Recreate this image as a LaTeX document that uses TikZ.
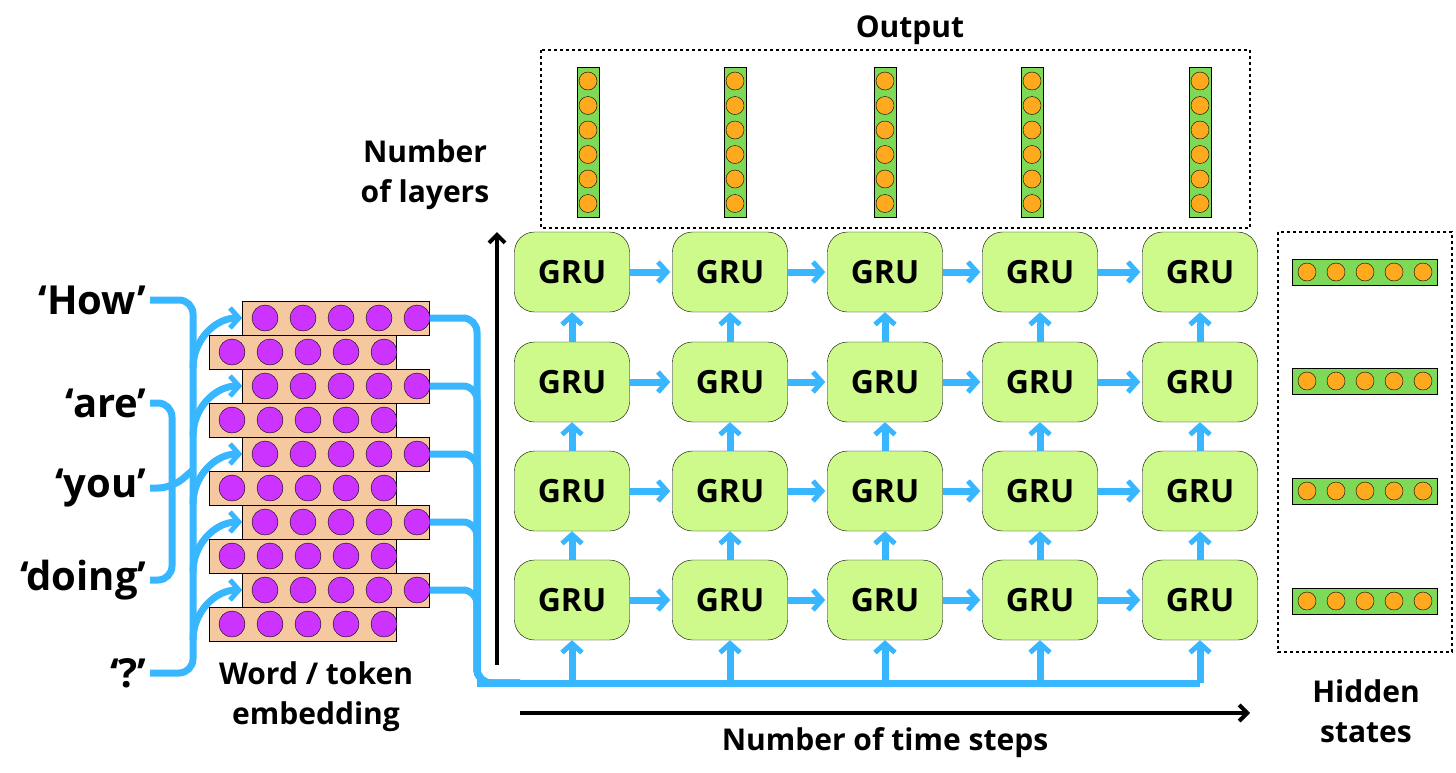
\documentclass[tikz,border=0pt]{standalone}
\usepackage{fontspec}
\setmainfont{Open Sans}
\usetikzlibrary{arrows.meta}
\definecolor{flow}{RGB}{56,182,255}
\definecolor{gruf}{RGB}{206,250,140}
\definecolor{strip}{RGB}{126,217,87}
\definecolor{dot}{RGB}{255,170,30}
\definecolor{emb}{RGB}{245,200,160}
\definecolor{pur}{RGB}{204,51,255}
\tikzset{
  gru/.style={draw,fill=gruf,rounded corners=20pt,minimum width=115pt,minimum height=80pt,font=\fontsize{32}{36}\selectfont\bfseries},
  wire/.style={flow,line width=7pt,rounded corners=14pt},
  tip/.style={-{Straight Barb[length=9pt,width=20pt,line width=5pt]}},
  word/.style={anchor=east,font=\fontsize{40}{44}\selectfont\bfseries},
  lbl/.style={align=center,font=\fontsize{30}{40}\selectfont\bfseries}
}
\begin{document}
\begin{tikzpicture}[x=1pt,y=-1pt]
\useasboundingbox (0,0) rectangle (1456,772);
% embeddings
\foreach \r [count=\i] in {318,386,454,522,590}{
  \node[draw,fill=emb,minimum width=187pt,minimum height=34pt,inner sep=0] (up\i) at (336,\r) {};
  \node[draw,fill=emb,minimum width=187pt,minimum height=34pt,inner sep=0] (lo\i) at (303,\r+34) {};
  \foreach \k in {0,...,4}{
    \fill[pur,draw=black] (265+\k*38,\r) circle (13pt);
    \fill[pur,draw=black] (232+\k*38,\r+34) circle (13pt);
  }
}
% words
\node[word] (how) at (150,300) {‘How’};
\node[word] (are) at (150,403) {‘are’};
\node[word] (you) at (150,488) {‘you’};
\node[word] (doing) at (150,580) {‘doing’};
\node[word] (qm) at (150,673) {‘?’};
\draw[wire] (how.east) -- (193,300) -- (193,673) -- (qm.east);
\draw[wire] (are.east) -- (172,403) -- (172,580) -- (doing.east);
\draw[wire] (you.east) -- (172,488) -- (193,470);
\foreach \i in {1,...,5}{
  \draw[wire,tip] (193,{300+68*\i}) to[out=90,in=180] (up\i.west);
  \draw[wire,rounded corners=14pt] (up\i.east) -- (477,{250+68*\i}) -- (477,683) -- (520,683);
}
\draw[wire] (477,683) -- (1200,683);
% axes
\coordinate (ya) at (497,665);
\coordinate (yb) at (497,232);
\coordinate (xa) at (520,713);
\coordinate (xb) at (1250,713);
\draw[line width=4pt,-{Straight Barb[length=8pt,width=16pt,line width=4pt]}] (ya) -- (yb);
\draw[line width=4pt,-{Straight Barb[length=8pt,width=16pt,line width=4pt]}] (xa) -- (xb);
% GRU grid
\foreach \x [count=\c] in {572,730,885,1040,1200}{
  \foreach \y [count=\r] in {600,491,382,272}{
    \node[gru] (g\c\r) at (\x,\y) {GRU};
  }
  \draw[wire,tip] (\x,683) -- (g\c1.south);
  \foreach \r [evaluate=\r as \n using int(\r+1)] in {1,2,3}{
    \draw[wire,tip] (g\c\r.north) -- (g\c\n.south);
  }
}
\foreach \r in {1,...,4}{
  \foreach \c [evaluate=\c as \n using int(\c+1)] in {1,...,4}{
    \draw[wire,tip,shorten >=2pt] (g\c\r.east) -- (g\n\r.west);
  }
}
% output
\draw[dashed,line width=1.5pt] (541,50) rectangle (1250,228);
\foreach \x [count=\c] in {588,735,885,1032,1200}{
  \node[draw,fill=strip,minimum width=22pt,minimum height=150pt,inner sep=0] (o\c) at (\x,142) {};
  \foreach \k in {0,...,5}{\fill[dot,draw=black] (\x,{81+\k*24.5}) circle (9pt);}
}
% hidden states
\draw[dashed,line width=1.5pt] (1278,232) rectangle (1452,652);
\foreach \y [count=\r] in {272,381,491,601}{
  \node[draw,fill=strip,minimum width=145pt,minimum height=26pt,inner sep=0] (h\r) at (1365,\y) {};
  \foreach \k in {0,...,4}{\fill[dot,draw=black] ({1307+\k*29},\y) circle (9pt);}
}
% labels
\node[lbl] (tout) at (910,30) {Output};
\node[lbl] (tlay) at (425,175) {Number\\of layers};
\node[lbl] (temb) at (316,697) {Word / token\\embedding};
\node[lbl] (ttime) at (885,743) {Number of time steps};
\node[lbl] (thid) at (1366,711) {Hidden\\states};
\end{tikzpicture}
\end{document}
